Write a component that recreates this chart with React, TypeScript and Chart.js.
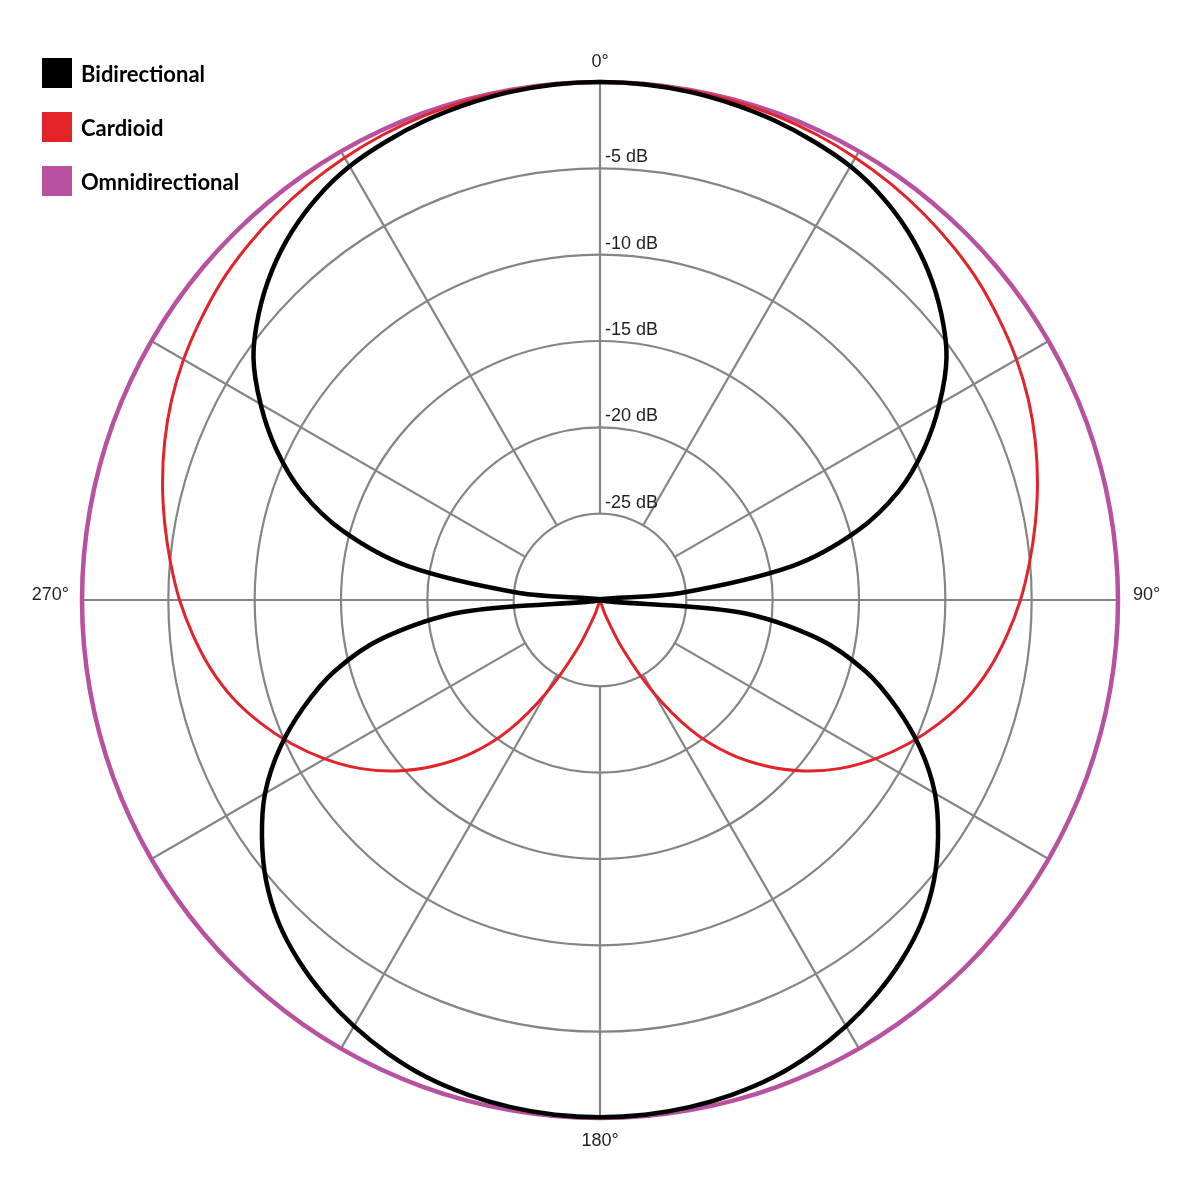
import React, { useEffect, useRef } from 'react';
import { Chart, registerables } from 'chart.js';

Chart.register(...registerables);

// Angles (degrees, clockwise from top) at which each pattern is sampled
const angles = [
  0, 5, 10, 15, 20, 25, 30, 35, 40, 45, 50, 55, 60, 65, 70, 75, 80, 85,
  90, 95, 100, 105, 110, 115, 120, 125, 130, 135, 140, 145, 150, 155, 160, 165, 170, 175,
  180, 185, 190, 195, 200, 205, 210, 215, 220, 225, 230, 235, 240, 245, 250, 255, 260, 265,
  270, 275, 280, 285, 290, 295, 300, 305, 310, 315, 320, 325, 330, 335, 340, 345, 350, 355,
];

// Relative level in dB at each angle
const bidirectional = [
  0, -0.03, -0.12, -0.27, -0.45, -0.7, -1.0, -1.5, -2.2, -3.1, -4.2, -5.5, -7.3, -9.3, -11.6, -14.6, -18.7, -25.3,
  -30, -22.0, -17.2, -14.1, -11.7, -9.5, -7.6, -6.1, -4.75, -3.65, -2.8, -2.1, -1.5, -1.0, -0.6, -0.35, -0.18, -0.08,
  -0.05, -0.08, -0.18, -0.35, -0.6, -1.0, -1.5, -2.1, -2.8, -3.65, -4.75, -6.1, -7.6, -9.5, -11.7, -14.1, -17.2, -22.0,
  -30, -25.3, -18.7, -14.6, -11.6, -9.3, -7.3, -5.5, -4.2, -3.1, -2.2, -1.5, -1.0, -0.7, -0.45, -0.27, -0.12, -0.03,
];

const cardioid = [
  0, 0, -0.03, -0.08, -0.16, -0.27, -0.42, -0.6, -0.82, -1.07, -1.36, -1.75, -2.15, -2.62, -3.17, -3.77, -4.4, -5.03,
  -5.65, -6.35, -7.1, -8.0, -9.1, -10.3, -11.6, -13.0, -14.6, -16.4, -18.4, -20.8, -23.8, -26.8, -29.0, -30, -30, -30,
  -30, -30, -30, -30, -29.0, -26.8, -23.8, -20.8, -18.4, -16.4, -14.6, -13.0, -11.6, -10.3, -9.1, -8.0, -7.1, -6.35,
  -5.65, -5.03, -4.4, -3.77, -3.17, -2.62, -2.15, -1.75, -1.36, -1.07, -0.82, -0.6, -0.42, -0.27, -0.16, -0.08, -0.03, 0,
];

const omnidirectional = [
  0, 0, 0, 0, 0, 0, 0, 0, 0, 0, 0, 0, 0, 0, 0, 0, 0, 0,
  0, 0, 0, 0, 0, 0, 0, 0, 0, 0, 0, 0, 0, 0, 0, 0, 0, 0,
  0, 0, 0, 0, 0, 0, 0, 0, 0, 0, 0, 0, 0, 0, 0, 0, 0, 0,
  0, 0, 0, 0, 0, 0, 0, 0, 0, 0, 0, 0, 0, 0, 0, 0, 0, 0,
];

const seriesNames = ['Bidirectional', 'Cardioid', 'Omnidirectional'];
const seriesColors = ['#000000', '#e2232a', '#b8519f'];
const seriesWidths = [4.5, 3, 4.5];

// Radial axis
const dbMin = -30;
const dbMax = 0;
const dbStep = 5;
const ringValues = [-5, -10, -15, -20, -25];
const ringLabels = ['-5 dB', '-10 dB', '-15 dB', '-20 dB', '-25 dB'];
const spokeInnerDb = -25;
const spokeAngles = [0, 30, 60, 90, 120, 150, 180, 210, 240, 270, 300, 330];
const axisAngles = [0, 90, 180, 270];
const axisLabels = ['0°', '90°', '180°', '270°'];

const GRID = '#858585';
const TEXT = '#231f20';

const decorPlugin = {
  id: 'polarDecor',
  beforeDatasetsDraw(chart: any) {
    const s = chart.scales.r;
    const ctx = chart.ctx;
    ctx.save();
    ctx.strokeStyle = GRID;
    ctx.lineWidth = 2.2;
    spokeAngles.forEach((a) => {
      const idx = angles.indexOf(a);
      const p1 = s.getPointPositionForValue(idx, spokeInnerDb);
      const p2 = s.getPointPositionForValue(idx, dbMax);
      ctx.beginPath();
      ctx.moveTo(p1.x, p1.y);
      ctx.lineTo(p2.x, p2.y);
      ctx.stroke();
    });
    ctx.restore();
  },
  afterDatasetsDraw(chart: any) {
    const s = chart.scales.r;
    const ctx = chart.ctx;
    ctx.save();
    // ring labels
    ctx.font = '18px "Liberation Sans", Arial, sans-serif';
    ctx.fillStyle = TEXT;
    ctx.textAlign = 'left';
    ctx.textBaseline = 'alphabetic';
    ringValues.forEach((v, i) => {
      const p = s.getPointPositionForValue(0, v);
      ctx.fillText(ringLabels[i], p.x + 5, p.y - 6);
    });
    // angle labels
    axisAngles.forEach((a, i) => {
      const idx = angles.indexOf(a);
      const p = s.getPointPosition(idx, s.drawingArea + 15);
      if (a === 0) {
        ctx.textAlign = 'center';
        ctx.fillText(axisLabels[i], p.x, p.y);
      } else if (a === 90) {
        ctx.textAlign = 'left';
        ctx.fillText(axisLabels[i], p.x, p.y);
      } else if (a === 180) {
        ctx.textAlign = 'center';
        ctx.fillText(axisLabels[i], p.x, p.y + 13);
      } else {
        ctx.textAlign = 'right';
        ctx.fillText(axisLabels[i], p.x + 2, p.y);
      }
    });
    // legend
    ctx.font = 'bold 22px Lato, "Liberation Sans", sans-serif';
    ctx.textAlign = 'left';
    chart.data.datasets.forEach((ds: any, i: number) => {
      const y = 58 + i * 54;
      ctx.fillStyle = ds.borderColor;
      ctx.fillRect(42, y, 30, 30);
      ctx.fillStyle = '#000000';
      ctx.fillText(ds.label, 81, y + 24);
    });
    ctx.restore();
  },
};

export default function App() {
  const canvasRef = useRef<HTMLCanvasElement | null>(null);

  useEffect(() => {
    if (!canvasRef.current) return;
    const series = [bidirectional, cardioid, omnidirectional];
    const chart = new Chart(canvasRef.current, {
      type: 'radar',
      data: {
        labels: angles.map((a) => `${a}°`),
        datasets: series.map((data, i) => ({
          label: seriesNames[i],
          data,
          borderColor: seriesColors[i],
          backgroundColor: seriesColors[i],
          borderWidth: seriesWidths[i],
          fill: false,
          pointRadius: 0,
          pointHoverRadius: 0,
          tension: 0.33,
          borderJoinStyle: 'round',
        })),
      },
      options: {
        responsive: false,
        animation: false,
        layout: { padding: 82 },
        plugins: {
          legend: { display: false },
          tooltip: { enabled: false },
        },
        scales: {
          r: {
            min: dbMin,
            max: dbMax,
            ticks: { display: false, stepSize: dbStep },
            pointLabels: { display: false },
            angleLines: { display: false },
            grid: {
              circular: true,
              color: (c: any) => (c.index === 0 ? 'rgba(0,0,0,0)' : GRID),
              lineWidth: 2.2,
            },
          },
        },
      } as any,
      plugins: [decorPlugin],
    } as any);
    return () => chart.destroy();
  }, []);

  return (
    <div style={{ position: 'absolute', left: 0, top: 0, width: 1200, height: 1200, background: '#ffffff' }}>
      <canvas ref={canvasRef} width={1200} height={1200} />
    </div>
  );
}
